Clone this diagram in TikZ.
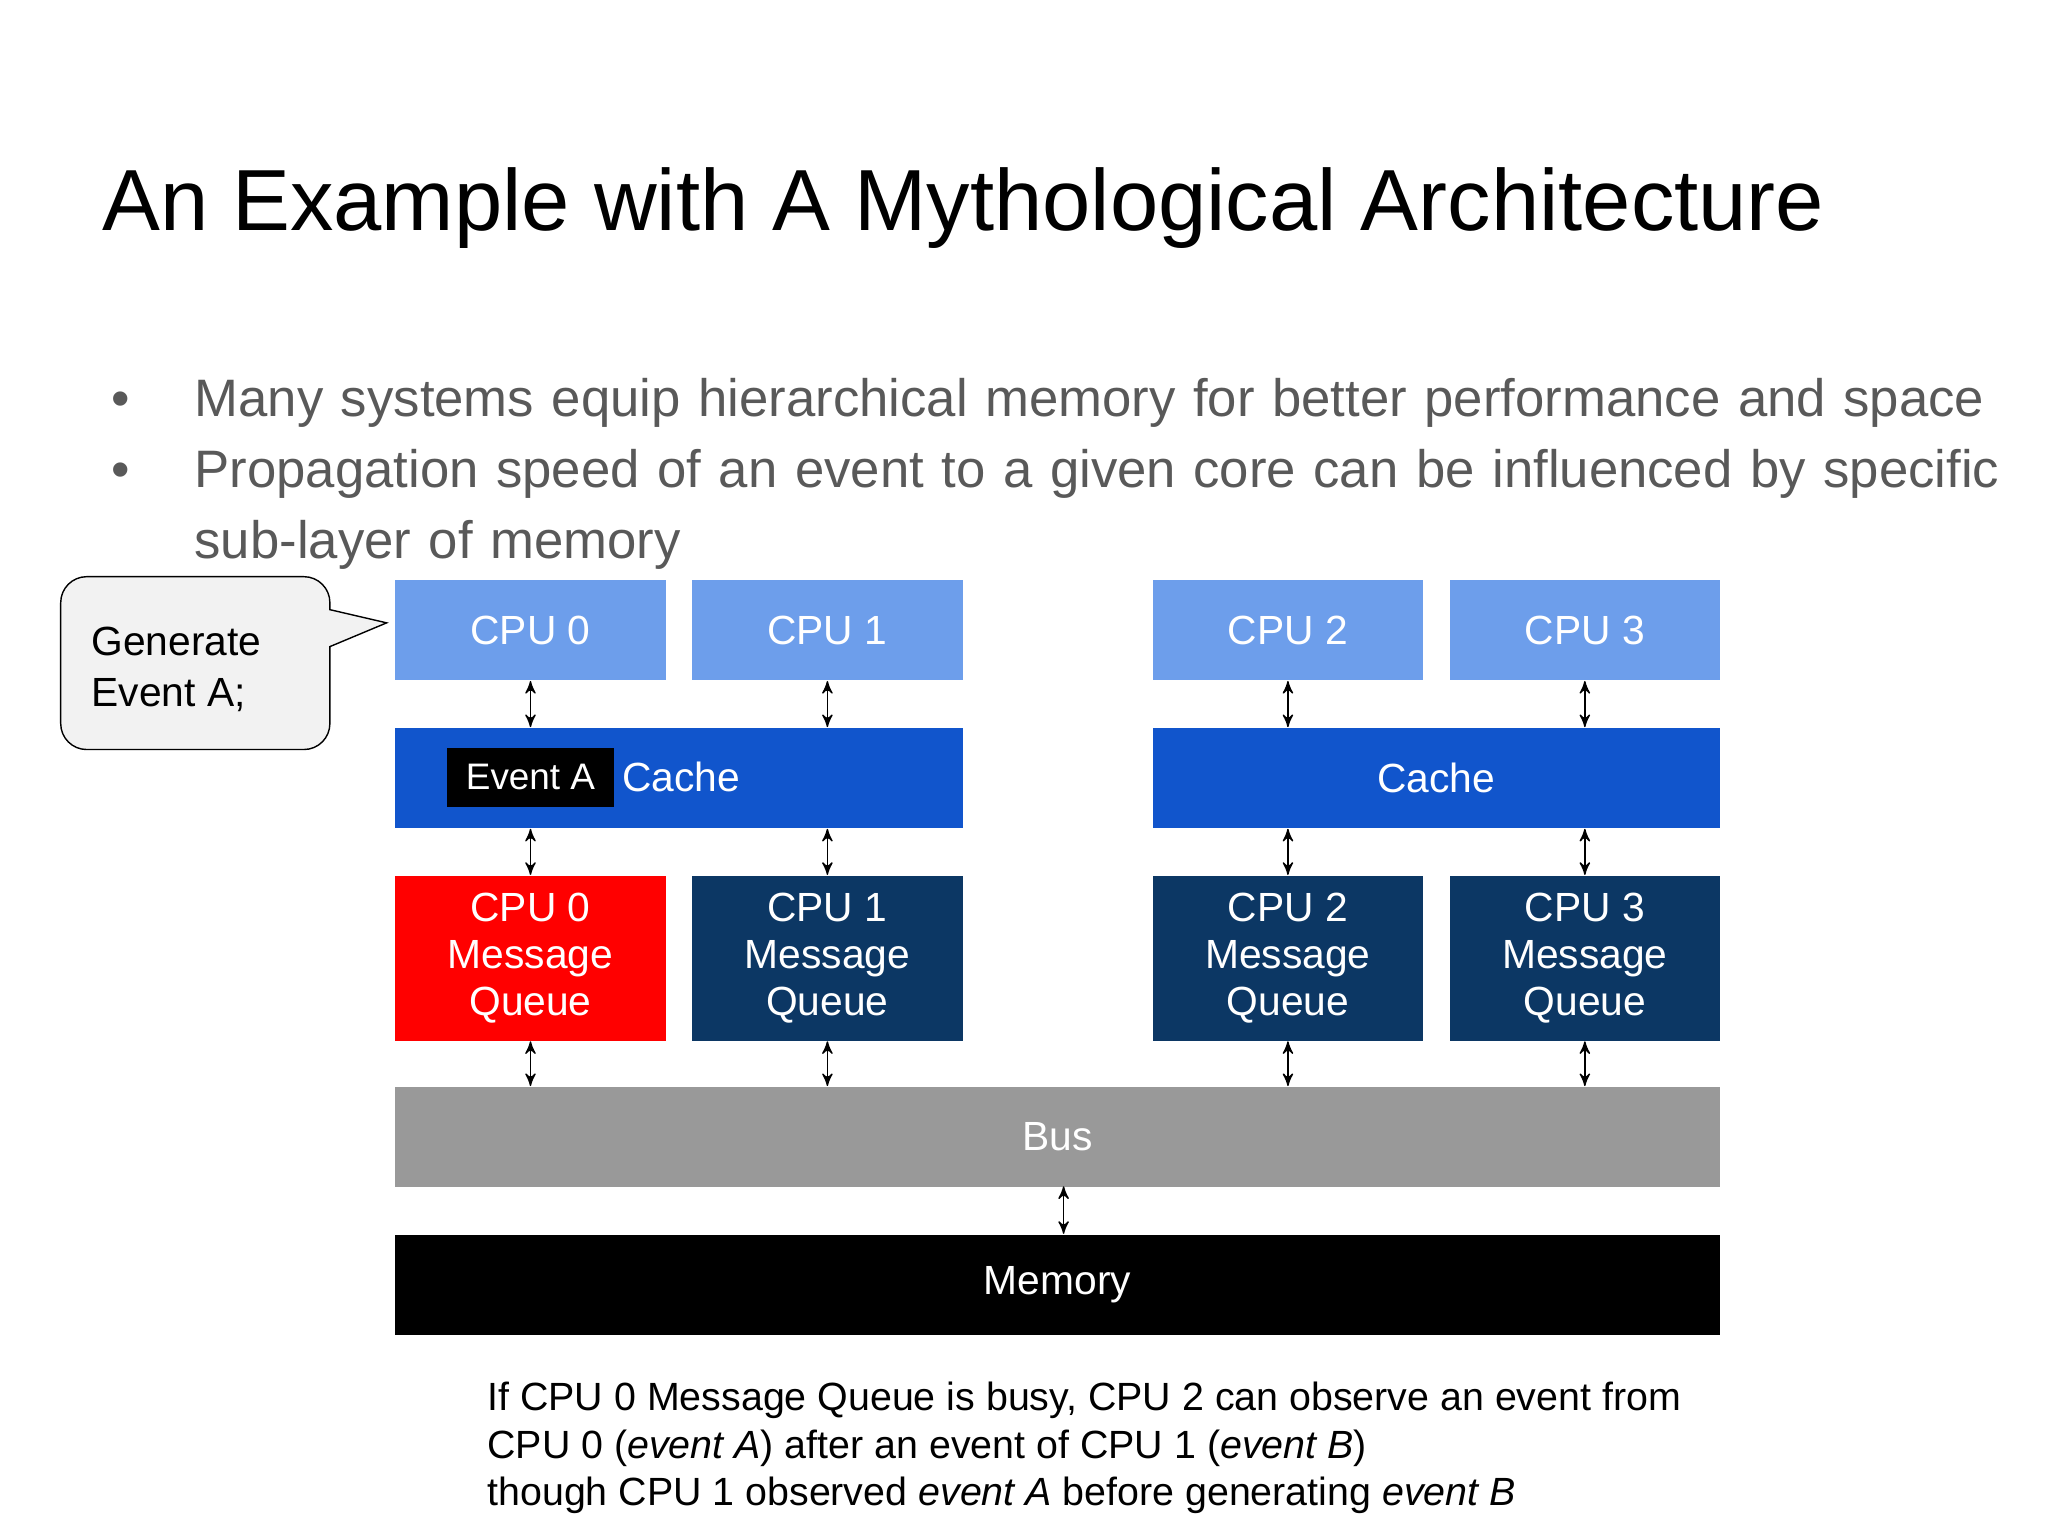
\documentclass[tikz,border=0pt]{standalone}
\usepackage{fontspec}
\setmainfont{Liberation Sans}
\usetikzlibrary{arrows}
\definecolor{cpublue}{HTML}{6D9EEB}
\definecolor{cacheblue}{HTML}{1155CC}
\definecolor{mqblue}{HTML}{0C3764}
\definecolor{busgray}{HTML}{999999}
\definecolor{bullgray}{HTML}{595959}
\begin{document}
\begin{tikzpicture}[x=0.013196cm, y=-0.013196cm,
    box/.style={inner sep=0pt, anchor=north west, align=center, text=white, font=\fontsize{11.6}{13.5}\selectfont},
    cpu/.style={box, fill=cpublue, minimum width=2.705cm, minimum height=1.003cm},
    queue/.style={box, fill=mqblue, minimum width=2.705cm, minimum height=1.65cm},
    link/.style={<->, >=stealth', thin}]
        \useasboundingbox (0,0) rectangle (1552,1164);

        \node[anchor=base west, font=\fontsize{24.7}{28}\selectfont] (title) at (68,175) {An Example with A Mythological Architecture};
        \node[anchor=base west, text=bullgray, font=\fontsize{15}{20.2}\selectfont, align=left, text width=19cm, inner sep=0pt] (text) at (84,316)
            {\makebox[0.83cm][l]{\textbullet}Many systems equip hierarchical memory for better performance and space\\
             \makebox[0.83cm][l]{\textbullet}Propagation speed of an event to a given core can be influenced by specific\\
             \makebox[0.83cm][l]{}sub-layer of memory};

        \node[cpu] (c0) at (299,439) {CPU 0};
        \node[cpu] (c1) at (524,439) {CPU 1};
        \node[cpu] (c2) at (873,439) {CPU 2};
        \node[cpu] (c3) at (1098,439) {CPU 3};

        \node[box, fill=cacheblue, minimum width=5.674cm, minimum height=1.003cm] (cache1) at (299,551) {};
        \node[box, fill=cacheblue, minimum width=5.674cm, minimum height=1.003cm] (cache2) at (873,551) {Cache};
        \node[box, fill=black, minimum width=1.676cm, minimum height=0.594cm, font=\fontsize{10.5}{12}\selectfont] (ev) at (338,566) {Event A};
        \node[box, anchor=west] (cachelbl) at (471,589) {Cache};

        \node[queue, fill=red] (q0) at (299,663) {CPU 0\\Message\\Queue};
        \node[queue] (q1) at (524,663) {CPU 1\\Message\\Queue};
        \node[queue] (q2) at (873,663) {CPU 2\\Message\\Queue};
        \node[queue] (q3) at (1098,663) {CPU 3\\Message\\Queue};

        \node[box, fill=busgray, minimum width=13.249cm, minimum height=1.003cm] (bus) at (299,823) {Bus};
        \node[box, fill=black, minimum width=13.249cm, minimum height=1.003cm] (mem) at (299,935) {Memory};

        % links between the layers
        \foreach \n in {0,1} {
            \draw[link] (c\n.south) -- (c\n.south |- cache1.north);
            \draw[link] (c\n.south |- cache1.south) -- (q\n.north);
            \draw[link] (q\n.south) -- (q\n.south |- bus.north);
        }
        \foreach \n in {2,3} {
            \draw[link] (c\n.south) -- (c\n.south |- cache2.north);
            \draw[link] (c\n.south |- cache2.south) -- (q\n.north);
            \draw[link] (q\n.south) -- (q\n.south |- bus.north);
        }
        \coordinate (busdown) at (806,899);
        \draw[link] (busdown) -- (busdown |- mem.north);

        % speech bubble
        \draw[fill=gray!10] (250,490) [rounded corners=0.26cm] -- (250,568) -- (46,568) -- (46,437) -- (250,437) [sharp corners] -- (250,462) -- (293,472) -- cycle;
        \node[anchor=north west, align=left, font=\fontsize{11.6}{14.5}\selectfont] (gen) at (60,466) {Generate\\Event A;};

        \node[anchor=north west, align=left, font=\fontsize{11.2}{13.5}\selectfont] (note) at (360,1038)
            {If CPU 0 Message Queue is busy, CPU 2 can observe an event from\\
             CPU 0 (\textit{event A}) after an event of CPU 1 (\textit{event B})\\
             though CPU 1 observed \textit{event A} before generating \textit{event B}};
    \end{tikzpicture}
\end{document}
